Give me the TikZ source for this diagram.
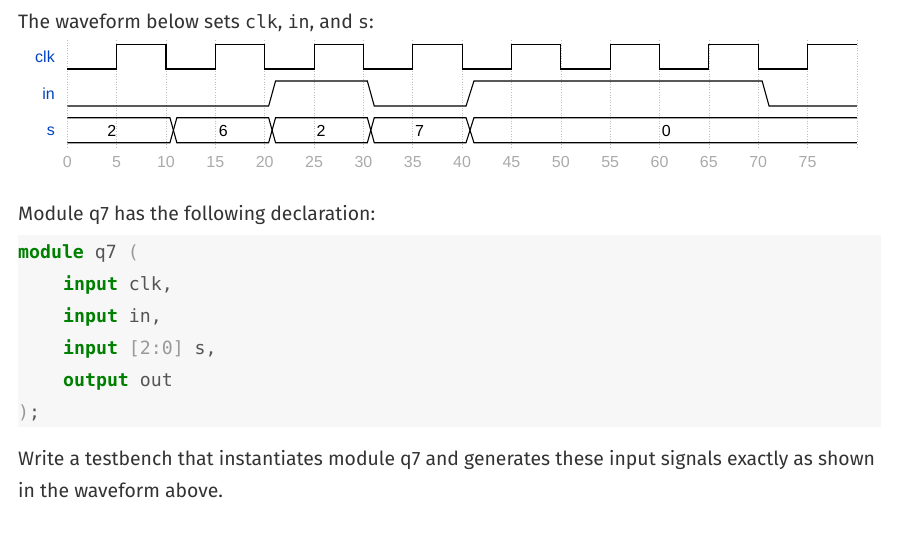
\documentclass[tikz,border=0pt]{standalone}
\usepackage{fontspec}
\setmainfont{Fira Sans}
\setmonofont{DejaVu Sans Mono}
\newfontfamily\wavefont{Liberation Sans}
\usetikzlibrary{calc}

\definecolor{txtgray}{HTML}{333333}
\definecolor{lanecol}{HTML}{0041C4}
\definecolor{tickgray}{HTML}{AAAAAA}
\definecolor{codebg}{HTML}{F7F7F7}
\definecolor{kwgreen}{HTML}{008000}
\definecolor{idgray}{HTML}{555555}
\definecolor{puncgray}{HTML}{999999}

\tikzset{
  prose/.style={anchor=base west, inner sep=0pt, text=txtgray, font=\fontsize{19.4}{22}\selectfont},
  codeline/.style={anchor=base west, inner sep=0pt, text=idgray, font=\ttfamily\fontsize{18.2}{20}\selectfont},
  lane/.style={anchor=east, inner sep=0pt, text=lanecol, font=\wavefont\fontsize{16}{18}\selectfont},
  busval/.style={inner sep=0pt, font=\wavefont\fontsize{16}{18}\selectfont},
  tick/.style={inner sep=0pt, text=tickgray, font=\wavefont\fontsize{16}{18}\selectfont},
  wave/.style={line width=1.1pt, black},
  grid/.style={dotted, line width=0.6pt, black!25}
}
\newcommand{\kw}[1]{\textcolor{kwgreen}{\bfseries #1}}
\newcommand{\pn}[1]{\textcolor{puncgray}{#1}}

\begin{document}
\begin{tikzpicture}[x=1pt, y=-1pt]
          \useasboundingbox (0,0) rectangle (898,539);

          \node[prose] (title) at (18,28) {The waveform below sets \texttt{\fontsize{18.2}{20}\selectfont clk}, \texttt{\fontsize{18.2}{20}\selectfont in}, and \texttt{\fontsize{18.2}{20}\selectfont s}:};

          % waveform, one time unit per step
          \begin{scope}[xshift=67.3pt, x=9.87pt]
          \foreach \t in {0,5,...,80}
            \draw[grid] (\t,40) -- (\t,147);
          \foreach \t in {0,5,...,75}
            \node[tick] (t\t) at (\t,162) {\t};

          \draw[wave] (0,69) \foreach \t in {5,15,...,65} { -- (\t,69) -- (\t,44.3) -- ({\t+5},44.3) -- ({\t+5},69) }
            -- (75,69) -- (75,44.3) -- (80,44.3);

          \draw[wave] (0,106) -- (20.4,106) -- (21.1,81) -- (30.4,81) -- (31.1,106)
            -- (40.4,106) -- (41.2,81) -- (70.4,81) -- (71.1,106) -- (80,106);

          \draw[wave] (0,117.7) -- (10.4,117.7) -- (11.1,142.7) -- (20.4,142.7) -- (21.1,117.7)
            -- (30.4,117.7) -- (31.1,142.7) -- (40.4,142.7) -- (41.2,117.7) -- (80,117.7);
          \draw[wave] (0,142.7) -- (10.4,142.7) -- (11.1,117.7) -- (20.4,117.7) -- (21.1,142.7)
            -- (30.4,142.7) -- (31.1,117.7) -- (40.4,117.7) -- (41.2,142.7) -- (80,142.7);

          \node[busval] (v1) at (4.5,130.5) {2};
          \node[busval] (v2) at (15.8,130.5) {6};
          \node[busval] (v3) at (25.7,130.5) {2};
          \node[busval] (v4) at (35.7,130.5) {7};
          \node[busval] (v5) at (60.7,130.5) {0};
          \end{scope}

          \node[lane] (clk) at (55,57) {clk};
          \node[lane] (in) at (55,94) {in};
          \node[lane] (s) at (55,131) {s};

          \node[prose] (decl) at (18,220) {Module q7 has the following declaration:};

          % code block
          \fill[codebg] (18,235) rectangle (881,427);
          \node[codeline] (c1) at (18,258) {\kw{module} q7 \pn{(}};
          \node[codeline] (c2) at (63,290) {\kw{input} clk,};
          \node[codeline] (c3) at (63,322) {\kw{input} in,};
          \node[codeline] (c4) at (63,354) {\kw{input} \pn{[2:0]} s,};
          \node[codeline] (c5) at (63,386) {\kw{output} out};
          \node[codeline] (c6) at (18,418) {\pn{)};};

          \node[prose] (task1) at (18,465) {Write a testbench that instantiates module q7 and generates these input signals exactly as shown};
          \node[prose] (task2) at (18,497) {in the waveform above.};
        \end{tikzpicture}
\end{document}
